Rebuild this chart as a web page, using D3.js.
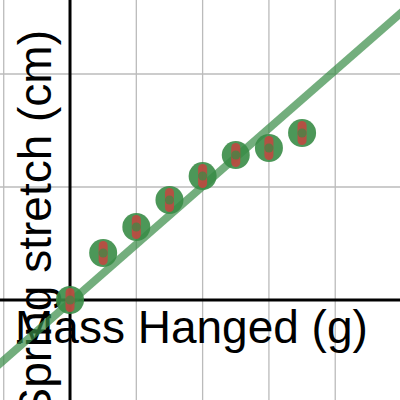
<!DOCTYPE html><html><head><script src="https://cdn.jsdelivr.net/npm/d3@7"></script>
<style>body{margin:0}svg{display:block}</style></head><body><svg width="400" height="400"></svg>
<script>
const massValues=[0,0.5,1,1.5,2,2.5,3,3.5];
const stretchValues=[0,0.416,0.646,0.885,1.097,1.283,1.345,1.478];
const fitSlope=0.513, fitIntercept=-0.02;
const xTicks=[-1,0,1,2,3,4,5];
const yTicks=[-1,0,1,2,3];
const xLabel="Mass Hanged (g)", yLabel="Spring stretch (cm)";
const svg=d3.select("svg");
const x=d3.scaleLinear().domain([-1.056,4.977]).range([0,400]);
const y=d3.scaleLinear().domain([-0.885,2.655]).range([400,0]);
svg.append("rect").attr("width",400).attr("height",400).attr("fill","#fff");
const g=svg.append("g");
g.selectAll(".vx").data(xTicks).join("line").attr("x1",d=>x(d)).attr("x2",d=>x(d)).attr("y1",0).attr("y2",400).attr("stroke","#bbb").attr("stroke-width",1.3);
g.selectAll(".hy").data(yTicks).join("line").attr("y1",d=>y(d)).attr("y2",d=>y(d)).attr("x1",0).attr("x2",400).attr("stroke","#bbb").attr("stroke-width",1.3);
g.append("line").attr("x1",x(0)).attr("x2",x(0)).attr("y1",0).attr("y2",400).attr("stroke","#000").attr("stroke-width",3);
g.append("line").attr("y1",y(0)).attr("y2",y(0)).attr("x1",0).attr("x2",400).attr("stroke","#000").attr("stroke-width",3);
g.append("text").attr("x",15).attr("y",343).attr("font-family","Liberation Sans, Arial").attr("font-size",46).text(xLabel);
g.append("text").attr("transform","translate(51,30) rotate(-90)").attr("text-anchor","end").attr("font-family","Liberation Sans, Arial").attr("font-size",46).text(yLabel);
const xs=[-1.2,5.2];
g.append("line").attr("x1",x(xs[0])).attr("x2",x(xs[1])).attr("y1",y(fitSlope*xs[0]+fitIntercept)).attr("y2",y(fitSlope*xs[1]+fitIntercept)).attr("stroke","#388c46").attr("stroke-opacity",0.7).attr("stroke-width",8);
const pts=massValues.map((m,i)=>[m,stretchValues[i]]);
const p=g.selectAll(".pt").data(pts).join("g").attr("transform",d=>`translate(${x(d[0])},${y(d[1])})`);
p.append("circle").attr("r",14).attr("fill","#388c46").attr("fill-opacity",0.9);
p.append("rect").attr("x",-4.5).attr("y",-12).attr("width",9).attr("height",24).attr("rx",4.5).attr("fill","#c74440").attr("fill-opacity",0.85);
p.append("circle").attr("r",4.5).attr("fill","#388c46").attr("fill-opacity",0.7);
</script></body></html>
